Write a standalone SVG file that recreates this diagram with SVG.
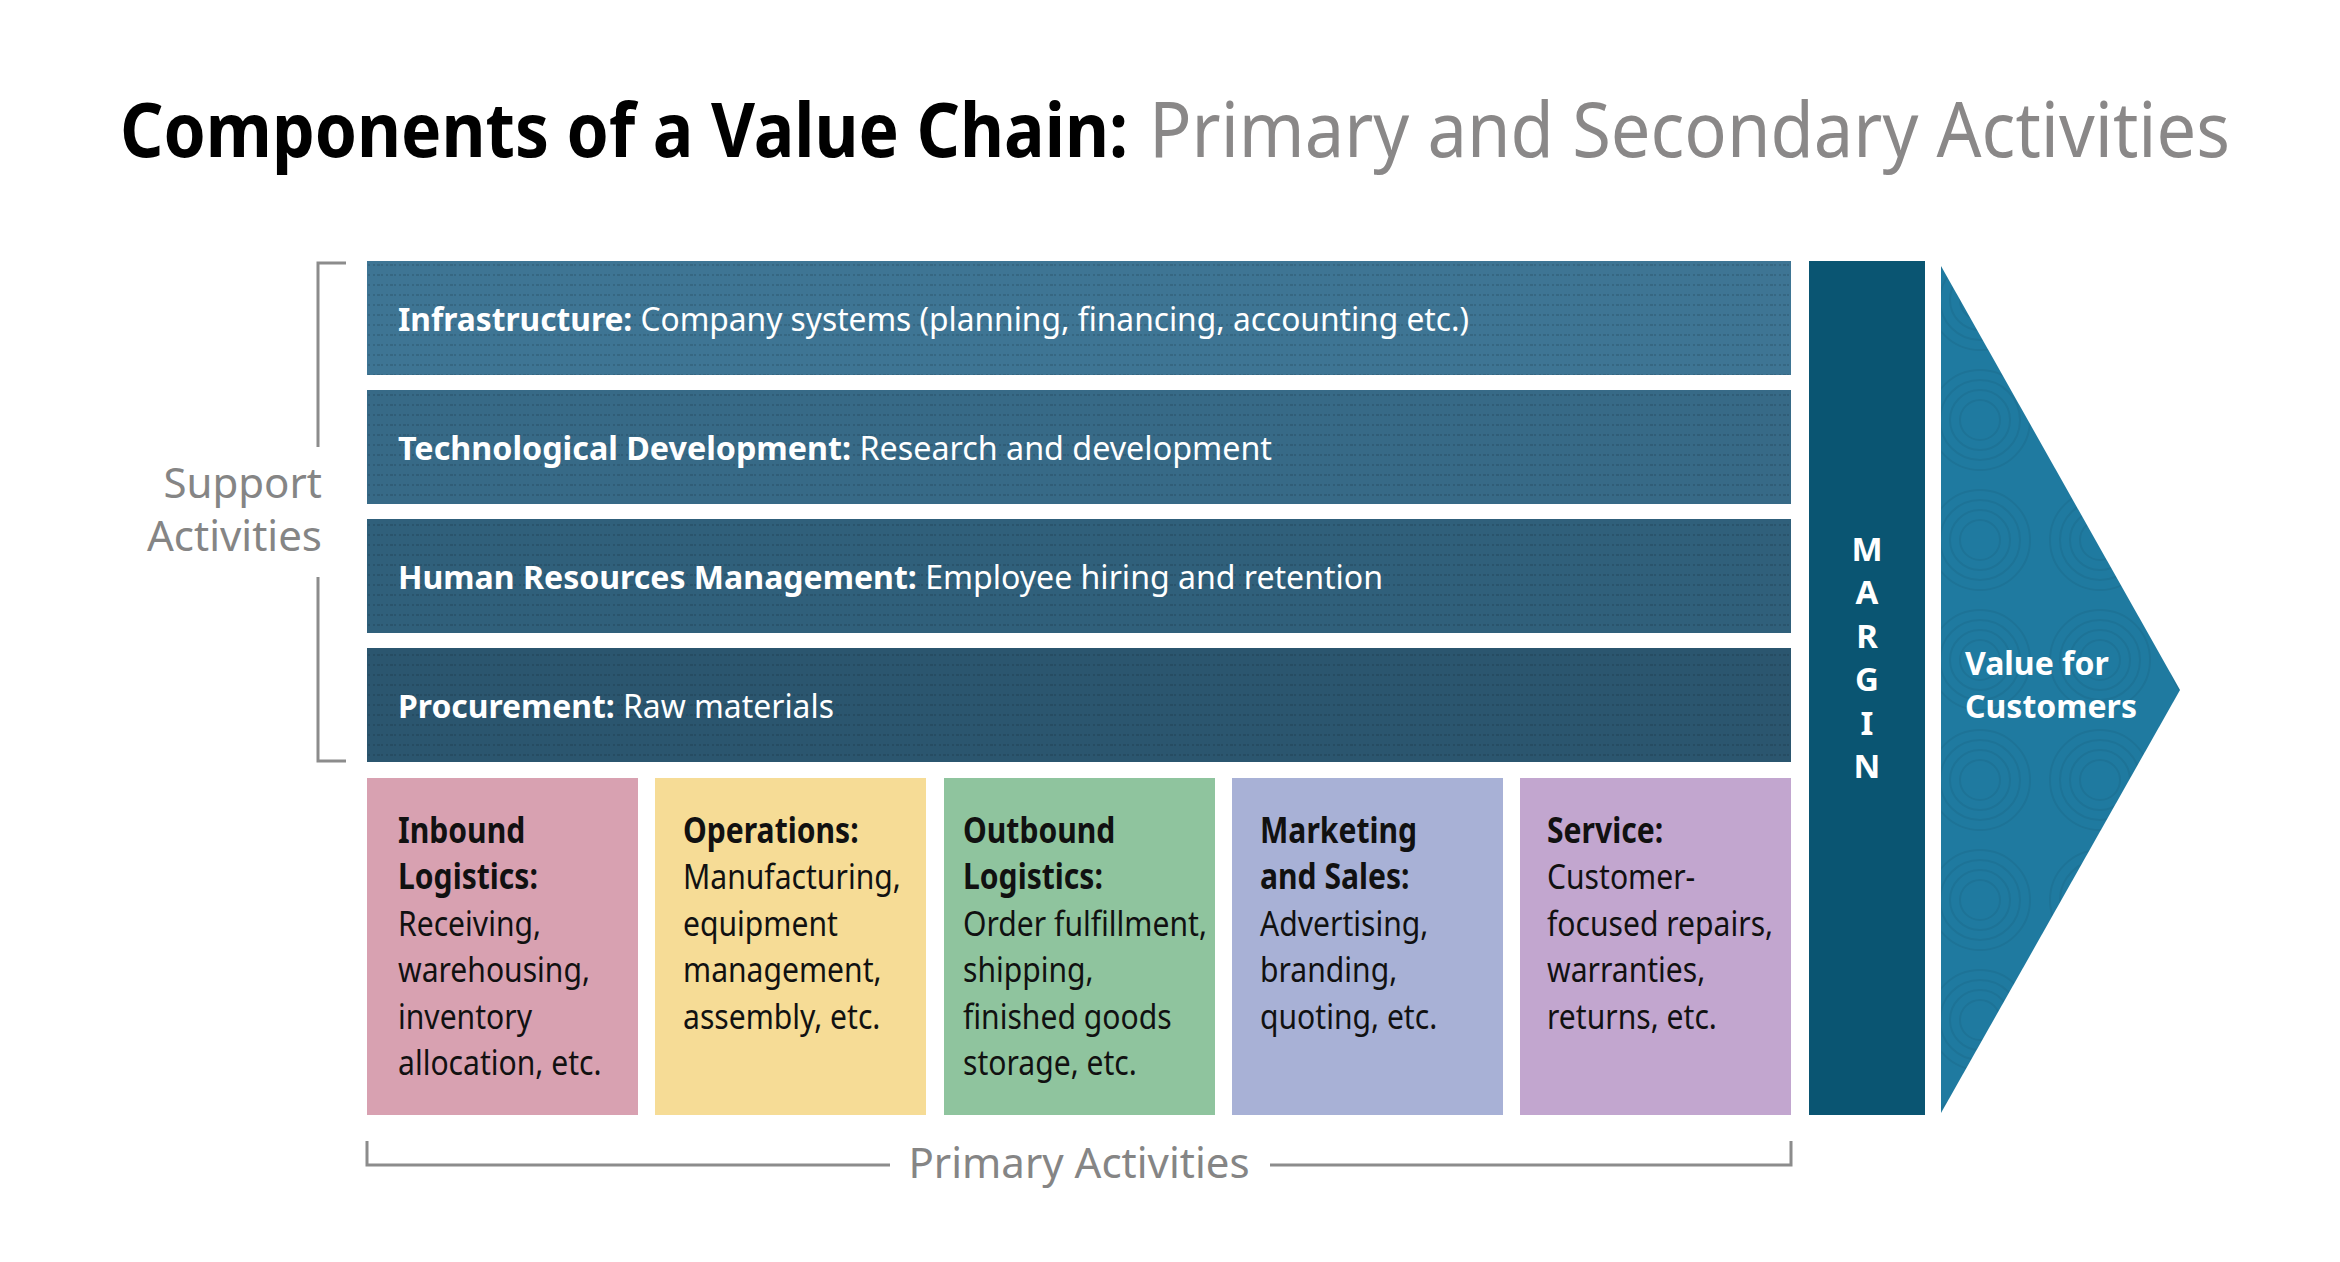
<svg xmlns="http://www.w3.org/2000/svg" width="2340" height="1262" viewBox="0 0 2340 1262">
  <style>
    .sans { font-family: "Noto Sans", "Open Sans", "Liberation Sans", sans-serif; }
    .title-b { font-size: 76px; font-weight: 700; fill: #000000; }
    .title-r { font-size: 76px; font-weight: 400; fill: #8a8888; }
    .gray-lbl { font-size: 42px; fill: #858585; }
    .band-t { font-size: 33px; fill: #ffffff; }
    .box-t { font-size: 35px; fill: #111111; }
    .b { font-weight: 700; }
    .margin-t { font-size: 33px; font-weight: 700; fill: #ffffff; }
    .value-t { font-size: 32px; font-weight: 700; fill: #ffffff; }
    .bracket { fill: none; stroke: #8c8c8c; stroke-width: 3; }
  </style>
  <defs>
    <pattern id="dots" width="60" height="10" patternUnits="userSpaceOnUse">
      <line x1="0" y1="5" x2="60" y2="5" stroke="#000000" stroke-opacity="0.12" stroke-width="2" stroke-dasharray="2 2 3 1 2 3"/>
    </pattern>
    <pattern id="arcs" width="120" height="120" patternUnits="userSpaceOnUse">
      <g fill="none" stroke="#000000" stroke-opacity="0.06" stroke-width="2">
        <circle cx="60" cy="60" r="50"/>
        <circle cx="60" cy="60" r="40"/>
        <circle cx="60" cy="60" r="30"/>
        <circle cx="60" cy="60" r="20"/>
      </g>
    </pattern>
  </defs>
  <rect width="2340" height="1262" fill="#ffffff"/>

  <g id="title" class="sans">
    <text class="title-b" x="120" y="157" textLength="1008" lengthAdjust="spacingAndGlyphs">Components of a Value Chain:</text>
    <text class="title-r" x="1149" y="157" textLength="1081" lengthAdjust="spacingAndGlyphs">Primary and Secondary Activities</text>
  </g>

  <g id="support-label" class="sans">
    <path class="bracket" d="M346,263 H318 V447 M318,577 V761 H346"/>
    <text class="gray-lbl" x="322" y="498" text-anchor="end">Support</text>
    <text class="gray-lbl" x="322" y="551" text-anchor="end">Activities</text>
  </g>

  <g id="infrastructure" class="sans">
    <rect x="367" y="261" width="1424" height="114" fill="#3e7594"/>
    <rect x="367" y="261" width="1424" height="114" fill="url(#dots)"/>
    <text class="band-t" x="398" y="331" textLength="1071" lengthAdjust="spacingAndGlyphs"><tspan class="b">Infrastructure:</tspan> Company systems (planning, financing, accounting etc.)</text>
  </g>
  <g id="technological-development" class="sans">
    <rect x="367" y="390" width="1424" height="114" fill="#376a87"/>
    <rect x="367" y="390" width="1424" height="114" fill="url(#dots)"/>
    <text class="band-t" x="398" y="460" textLength="874" lengthAdjust="spacingAndGlyphs"><tspan class="b">Technological Development:</tspan> Research and development</text>
  </g>
  <g id="human-resources" class="sans">
    <rect x="367" y="519" width="1424" height="114" fill="#30607b"/>
    <rect x="367" y="519" width="1424" height="114" fill="url(#dots)"/>
    <text class="band-t" x="398" y="589" textLength="985" lengthAdjust="spacingAndGlyphs"><tspan class="b">Human Resources Management:</tspan> Employee hiring and retention</text>
  </g>
  <g id="procurement" class="sans">
    <rect x="367" y="648" width="1424" height="114" fill="#2b566f"/>
    <rect x="367" y="648" width="1424" height="114" fill="url(#dots)"/>
    <text class="band-t" x="398" y="718" textLength="436" lengthAdjust="spacingAndGlyphs"><tspan class="b">Procurement:</tspan> Raw materials</text>
  </g>

  <g id="inbound-logistics" class="sans">
    <rect x="367" y="778" width="271" height="337" fill="#d8a1b1"/>
    <g transform="translate(398,0) scale(0.86,1)">
      <text class="box-t" x="0" y="843"><tspan class="b" x="0">Inbound</tspan><tspan class="b" x="0" dy="46.5">Logistics:</tspan><tspan x="0" dy="46.5">Receiving,</tspan><tspan x="0" dy="46.5">warehousing,</tspan><tspan x="0" dy="46.5">inventory</tspan><tspan x="0" dy="46.5">allocation, etc.</tspan></text>
    </g>
  </g>
  <g id="operations" class="sans">
    <rect x="655" y="778" width="271" height="337" fill="#f6dc96"/>
    <g transform="translate(683,0) scale(0.86,1)">
      <text class="box-t" x="0" y="843"><tspan class="b" x="0">Operations:</tspan><tspan x="0" dy="46.5">Manufacturing,</tspan><tspan x="0" dy="46.5">equipment</tspan><tspan x="0" dy="46.5">management,</tspan><tspan x="0" dy="46.5">assembly, etc.</tspan></text>
    </g>
  </g>
  <g id="outbound-logistics" class="sans">
    <rect x="944" y="778" width="271" height="337" fill="#8fc49e"/>
    <g transform="translate(963,0) scale(0.86,1)">
      <text class="box-t" x="0" y="843"><tspan class="b" x="0">Outbound</tspan><tspan class="b" x="0" dy="46.5">Logistics:</tspan><tspan x="0" dy="46.5">Order fulfillment,</tspan><tspan x="0" dy="46.5">shipping,</tspan><tspan x="0" dy="46.5">finished goods</tspan><tspan x="0" dy="46.5">storage, etc.</tspan></text>
    </g>
  </g>
  <g id="marketing-sales" class="sans">
    <rect x="1232" y="778" width="271" height="337" fill="#a8b1d6"/>
    <g transform="translate(1260,0) scale(0.86,1)">
      <text class="box-t" x="0" y="843"><tspan class="b" x="0">Marketing</tspan><tspan class="b" x="0" dy="46.5">and Sales:</tspan><tspan x="0" dy="46.5">Advertising,</tspan><tspan x="0" dy="46.5">branding,</tspan><tspan x="0" dy="46.5">quoting, etc.</tspan></text>
    </g>
  </g>
  <g id="service" class="sans">
    <rect x="1520" y="778" width="271" height="337" fill="#c2a6cf"/>
    <g transform="translate(1547,0) scale(0.86,1)">
      <text class="box-t" x="0" y="843"><tspan class="b" x="0">Service:</tspan><tspan x="0" dy="46.5">Customer-</tspan><tspan x="0" dy="46.5">focused repairs,</tspan><tspan x="0" dy="46.5">warranties,</tspan><tspan x="0" dy="46.5">returns, etc.</tspan></text>
    </g>
  </g>

  <g id="primary-label" class="sans">
    <path class="bracket" d="M367,1141 V1165 H890 M1270,1165 H1791 V1141"/>
    <text class="gray-lbl" x="1079" y="1178" text-anchor="middle">Primary Activities</text>
  </g>

  <g id="margin" class="sans">
    <rect x="1809" y="261" width="116" height="854" fill="#0a5572"/>
    <text class="margin-t" x="1867" y="561" text-anchor="middle">M</text>
    <text class="margin-t" x="1867" y="604" text-anchor="middle">A</text>
    <text class="margin-t" x="1867" y="648" text-anchor="middle">R</text>
    <text class="margin-t" x="1867" y="691" text-anchor="middle">G</text>
    <text class="margin-t" x="1867" y="735" text-anchor="middle">I</text>
    <text class="margin-t" x="1867" y="778" text-anchor="middle">N</text>
  </g>

  <g id="value-for-customers" class="sans">
    <polygon points="1941,266 2180,690 1941,1113" fill="#1f7aa0"/>
    <polygon points="1941,266 2180,690 1941,1113" fill="url(#arcs)"/>
    <text class="value-t" x="1965" y="675">Value for</text>
    <text class="value-t" x="1965" y="718">Customers</text>
  </g>

  <g id="connectors"></g>
</svg>
